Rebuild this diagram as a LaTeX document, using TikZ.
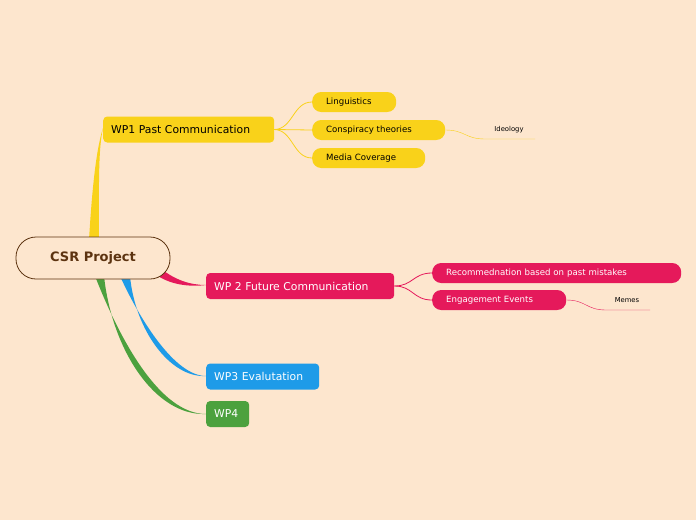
\documentclass[tikz,border=0pt]{standalone}
\usepackage{fontspec}
\setmainfont{DejaVu Sans}
\begin{document}
\begin{tikzpicture}[x=1pt,y=-1pt,
 box/.style={rounded corners=4pt,minimum height=26pt,inner xsep=8pt,font=\fontsize{10.8}{12}\selectfont,align=left},
 sub/.style={rounded corners=9pt,minimum height=20pt,inner xsep=14pt,font=\fontsize{8.6}{10}\selectfont,align=left},
 tag/.style={font=\fontsize{6.8}{8}\selectfont}]
\definecolor{bg}{HTML}{FDE6CE}
\definecolor{br}{HTML}{5C3310}
\definecolor{yl}{HTML}{F9D21A}
\definecolor{rd}{HTML}{E5195B}
\definecolor{bl}{HTML}{1E9BE8}
\definecolor{gr}{HTML}{4CA13E}
\fill[bg] (0,0) rectangle (696,520);
\useasboundingbox (0,0) rectangle (696,520);
% branches
\fill[yl] (89,240) .. controls (92,190) and (96,150) .. (103,128) .. controls (98,150) and (99,190) .. (99,240) -- cycle;
\fill[rd] (160,268) .. controls (175,280) and (190,285) .. (206,285) .. controls (190,287) and (172,285) .. (158,276) -- cycle;
\fill[bl] (120,276) .. controls (140,320) and (175,376) .. (206,376) .. controls (170,378) and (135,330) .. (130,276) -- cycle;
\fill[gr] (95,276) .. controls (120,340) and (160,414) .. (206,414) .. controls (155,416) and (112,350) .. (104,276) -- cycle;
\node[draw=br,line width=0.8pt,fill=bg,rounded corners=20pt,minimum width=154pt,minimum height=42pt,text=br,font=\bfseries\fontsize{13}{15}\selectfont] (root) at (93,258) {CSR Project};
\node[box,fill=yl,anchor=west,text width=155pt] (w1) at (103,129.5) {WP1 Past Communication};
\node[box,fill=rd,text=white,anchor=west,text width=172pt] (w2) at (206,286) {WP 2 Future Communication};
\node[box,fill=bl,text=white,anchor=west,text width=97pt] (w3) at (206,376.5) {WP3 Evalutation};
\node[box,fill=gr,text=white,anchor=west,text width=27pt] (w4) at (206,414) {WP4};
\node[sub,fill=yl,anchor=west,text width=56pt] (l) at (312,102) {Linguistics};
\node[sub,fill=yl,anchor=west,text width=105pt] (c) at (312,130) {Conspiracy theories};
\node[sub,fill=yl,anchor=west,text width=85pt] (m) at (312,158) {Media Coverage};
\node[sub,fill=rd,text=white,anchor=west,text width=221pt] (r) at (432,273) {Recommednation based on past mistakes};
\node[sub,fill=rd,text=white,anchor=west,text width=106pt] (e) at (432,300) {Engagement Events};
\node[tag] (i) at (509,130) {Ideology};
\node[tag] (me) at (627,300) {Memes};
\coordinate (ie) at (535,139);
\coordinate (mee) at (650,310);
\draw[yl,thick] (w1.east) .. controls (293,129) and (293,102) .. (l.west);
\draw[yl,thick] (w1.east) -- (c.west);
\draw[yl,thick] (w1.east) .. controls (293,130) and (293,158) .. (m.west);
\draw[yl] (c.east) .. controls (465,130) and (465,139) .. (485,139) -- (ie);
\draw[rd,thick] (w2.east) .. controls (413,286) and (413,273) .. (r.west);
\draw[rd,thick] (w2.east) .. controls (413,286) and (413,300) .. (e.west);
\draw[rd] (e.east) .. controls (586,300) and (586,310) .. (606,310) -- (mee);
\end{tikzpicture}
\end{document}
